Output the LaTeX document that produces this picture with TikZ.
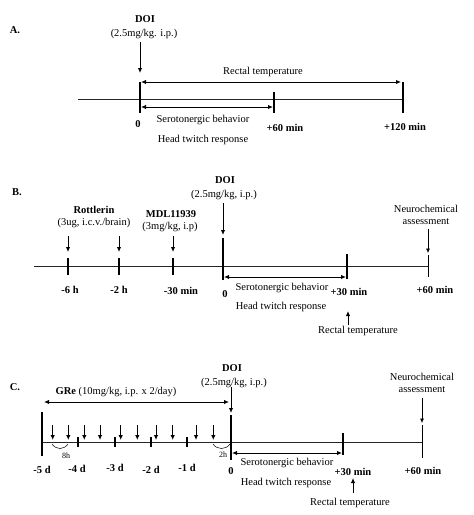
\documentclass[tikz,border=0pt]{standalone}
\usepackage{fontspec}
\setmainfont{Liberation Serif}
\usetikzlibrary{arrows.meta}
\begin{document}
\begin{tikzpicture}[x=1pt,y=-1pt,
  lbl/.style={inner sep=0pt,font=\fontsize{10.5}{12}\selectfont},
  blbl/.style={inner sep=0pt,font=\fontsize{10.5}{12}\selectfont\bfseries},
  small/.style={inner sep=0pt,font=\fontsize{8}{9}\selectfont},
  base/.style={line width=0.8pt,draw=black!85},
  thick tick/.style={line width=2pt},
  mid tick/.style={line width=1.3pt},
  thin tick/.style={line width=0.8pt},
  arr/.style={line width=1pt,-{Latex[length=5pt,width=4.5pt]}},
  darr/.style={line width=1pt,{Latex[length=5pt,width=4.5pt]}-{Latex[length=5pt,width=4.5pt]}},
  tarr/.style={line width=0.6pt,-{Latex[length=4.5pt,width=4pt]}}]
\useasboundingbox (0,0) rectangle (474,515);

%%%%%%%%%%%%%%%% Panel A
\node[blbl] (A) at (15,30) {A.};
\node[blbl] (Adoi) at (145,19) {DOI};
\node[lbl] (Adose) at (144,34) {(2.5mg/kg. i.p.)};
\coordinate (Aarrs) at (140,42);
\coordinate (Aarre) at (140,73);
\draw[arr] (Aarrs) -- (Aarre);
\coordinate (Ab0) at (78,99);
\coordinate (Ab1) at (403,99);
\draw[base] (Ab0) -- (Ab1);
\coordinate (At0a) at (140,82); \coordinate (At0b) at (140,113);
\draw[thick tick] (At0a) -- (At0b);
\coordinate (At60a) at (274,92); \coordinate (At60b) at (274,113);
\draw[mid tick] (At60a) -- (At60b);
\coordinate (At120a) at (403,82); \coordinate (At120b) at (403,113);
\draw[line width=1.6pt] (At120a) -- (At120b);
\coordinate (Arta) at (141,82); \coordinate (Artb) at (401,82);
\draw[darr] (Arta) -- (Artb);
\node[lbl] (Art) at (263,72) {Rectal temperature};
\coordinate (Asba) at (141,107); \coordinate (Asbb) at (273,107);
\draw[darr] (Asba) -- (Asbb);
\node[blbl] (A0) at (138,124) {0};
\node[lbl] (Asb) at (203,120) {Serotonergic behavior};
\node[lbl] (Aht) at (203,140) {Head twitch response};
\node[blbl] (A60) at (285,128) {+60 min};
\node[blbl] (A120) at (405,127) {+120 min};

%%%%%%%%%%%%%%%% Panel B
\node[blbl] (B) at (17,192) {B.};
\node[blbl] (Bdoi) at (225,180) {DOI};
\node[lbl] (Bdose) at (224,195) {(2.5mg/kg, i.p.)};
\coordinate (Bdas) at (223,203); \coordinate (Bdae) at (223,235);
\draw[arr] (Bdas) -- (Bdae);
\coordinate (Bb0) at (34,266); \coordinate (Bb1) at (428,266);
\draw[base] (Bb0) -- (Bb1);
\coordinate (Bt0a) at (223,238); \coordinate (Bt0b) at (223,280);
\draw[thick tick] (Bt0a) -- (Bt0b);
\node[blbl] (Brot) at (94,210) {Rottlerin};
\node[lbl] (Brotd) at (94,223) {(3ug, i.c.v./brain)};
\node[blbl] (Bmdl) at (171,214) {MDL11939};
\node[lbl] (Bmdld) at (170,227) {(3mg/kg, i.p)};
\foreach \x/\n in {68/m6,119/m2,173/m30}{
  \coordinate (Ba\n s) at (\x,236); \coordinate (Ba\n e) at (\x,252);
  \draw[arr] (Ba\n s) -- (Ba\n e);
  \coordinate (Bt\n a) at (\x,258); \coordinate (Bt\n b) at (\x,275);
  \draw[thick tick] (Bt\n a) -- (Bt\n b);
}
\coordinate (Bt30a) at (347,254); \coordinate (Bt30b) at (347,279);
\draw[mid tick] (Bt30a) -- (Bt30b);
\coordinate (Bt60a) at (428,255); \coordinate (Bt60b) at (428,277);
\draw[thin tick] (Bt60a) -- (Bt60b);
\node[lbl] (Bneu) at (426,209) {Neurochemical};
\node[lbl] (Bass) at (426,222) {assessment};
\coordinate (Bnas) at (428,229); \coordinate (Bnae) at (428,253);
\draw[tarr] (Bnas) -- (Bnae);
\coordinate (Bsba) at (224,277); \coordinate (Bsbb) at (346,277);
\draw[darr] (Bsba) -- (Bsbb);
\node[blbl] (Bm6) at (70,290) {-6 h};
\node[blbl] (Bm2) at (119,290) {-2 h};
\node[blbl] (Bm30) at (181,291) {-30 min};
\node[blbl] (B0) at (225,294) {0};
\node[lbl] (Bsb) at (282,288) {Serotonergic behavior};
\node[blbl] (B30) at (349,292) {+30 min};
\node[blbl] (B60) at (435,290) {+60 min};
\node[lbl] (Bht) at (281,307) {Head twitch response};
\coordinate (Bras) at (348,325); \coordinate (Brae) at (348,311);
\draw[arr] (Bras) -- (Brae);
\node[lbl] (Brt) at (358,331) {Rectal temperature};

%%%%%%%%%%%%%%%% Panel C
\node[blbl] (C) at (15,387) {C.};
\node[blbl] (Cdoi) at (232,368) {DOI};
\node[lbl] (Cdose) at (234,383) {(2.5mg/kg, i.p.)};
\coordinate (Cdas) at (231,387); \coordinate (Cdae) at (231,413);
\draw[arr] (Cdas) -- (Cdae);
\node[lbl] (Cneu) at (422,377) {Neurochemical};
\node[lbl] (Cass) at (422,390) {assessment};
\coordinate (Cnas) at (422,398); \coordinate (Cnae) at (422,423);
\draw[tarr] (Cnas) -- (Cnae);
\coordinate (Cb0) at (42,442); \coordinate (Cb1) at (422,442);
\draw[base] (Cb0) -- (Cb1);
\coordinate (Ct0a) at (231,415); \coordinate (Ct0b) at (231,460);
\draw[thick tick] (Ct0a) -- (Ct0b);
\coordinate (Ct5a) at (42,412); \coordinate (Ct5b) at (42,456);
\draw[thick tick] (Ct5a) -- (Ct5b);
\coordinate (Cgra) at (44,402); \coordinate (Cgrb) at (229,402);
\draw[darr] (Cgra) -- (Cgrb);
\node[lbl] (Cgre) at (116,392) {\textbf{GRe} (10mg/kg, i.p. x 2/day)};
\foreach \x/\n in {78/d4,115/d3,151/d2,187/d1}{
  \coordinate (Ct\n a) at (\x,437); \coordinate (Ct\n b) at (\x,447);
  \draw[mid tick] (Ct\n a) -- (Ct\n b);
}
\foreach \x [count=\i] in {52.7,68.3,84.3,100,120.7,137.3,156,172.7,196,213.3}{
  \coordinate (Cg\i s) at (\x,425); \coordinate (Cg\i e) at (\x,440);
  \draw[arr] (Cg\i s) -- (Cg\i e);
}
\coordinate (C8a) at (52,444); \coordinate (C8b) at (68,444);
\draw[line width=0.5pt] (C8a) .. controls (56,450) and (64,450) .. (C8b);
\node[small] (C8h) at (66,456) {8h};
\coordinate (C2a) at (213,444); \coordinate (C2b) at (230,444);
\draw[line width=0.5pt] (C2a) .. controls (217,450) and (226,450) .. (C2b);
\node[small] (C2h) at (223,455) {2h};
\coordinate (Ct30a) at (343,433); \coordinate (Ct30b) at (343,455);
\draw[mid tick] (Ct30a) -- (Ct30b);
\coordinate (Ct60a) at (422,425); \coordinate (Ct60b) at (422,458);
\draw[thin tick] (Ct60a) -- (Ct60b);
\coordinate (Csba) at (232,453); \coordinate (Csbb) at (342,453);
\draw[darr] (Csba) -- (Csbb);
\node[blbl] (Cm5) at (42,470) {-5 d};
\node[blbl] (Cm4) at (77,469) {-4 d};
\node[blbl] (Cm3) at (115,468) {-3 d};
\node[blbl] (Cm2) at (151,470) {-2 d};
\node[blbl] (Cm1) at (187,468) {-1 d};
\node[blbl] (C0) at (231,471) {0};
\node[lbl] (Csb) at (287,463) {Serotonergic behavior};
\node[blbl] (C30) at (353,472) {+30 min};
\node[blbl] (C60) at (423,471) {+60 min};
\node[lbl] (Cht) at (286,483) {Head twitch response};
\coordinate (Cras) at (353,493); \coordinate (Crae) at (353,478);
\draw[arr] (Cras) -- (Crae);
\node[lbl] (Crt) at (350,503) {Rectal temperature};
\end{tikzpicture}
\end{document}
